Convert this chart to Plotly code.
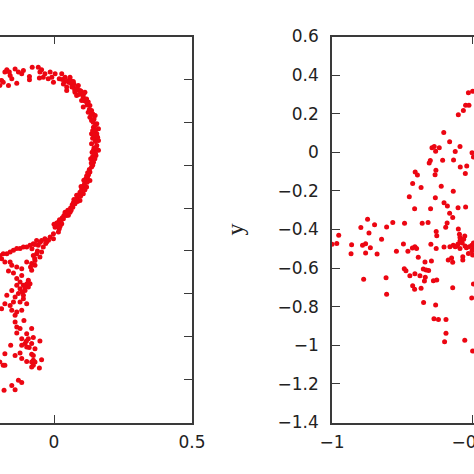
import plotly.graph_objects as go

# Left panel: values (the y tick labels of this panel are cropped away)
ring_top = [(-0.19,0.195),(-0.196,0.172),(-0.184,0.187),(-0.178,0.234),(-0.171,0.245),(-0.162,0.234),(-0.159,0.218),(-0.153,0.203),(-0.141,0.249),(-0.129,0.234),(-0.111,0.242),(-0.117,0.226),(-0.165,0.172),(-0.135,0.182),(-0.089,0.198),(-0.089,0.213),(-0.079,0.257),(-0.057,0.257),(-0.051,0.234),(-0.045,0.245),(-0.053,0.207),(-0.039,0.21),(-0.033,0.226),(-0.014,0.234),(-0.021,0.203),(-0.008,0.21),(-0.002,0.187),(0.004,0.226),(0.028,0.226),(0.019,0.203),(0.034,0.179),(0.04,0.21),(0.052,0.195),(0.046,0.164),(0.058,0.21),(0.064,0.179),(0.046,0.148),(0.07,0.164),(0.076,0.14),(0.088,0.172),(0.094,0.148),(0.082,0.125),(0.1,0.133),(0.106,0.117),(0.112,0.14),(0.1,0.102),(0.118,0.109),(0.124,0.094),(0.106,0.071),(0.13,0.078),(0.124,0.047),(0.136,0.055),(0.13,0.024),(0.149,0.032),(0.136,0.008),(0.155,-0.007),(0.143,-0.023),(0.161,-0.03),(0.136,-0.054),(0.155,-0.054),(0.149,-0.077),(0.161,-0.085),(0.136,-0.1),(0.155,-0.108),(0.143,-0.131),(0.161,-0.131),(0.133,-0.17),(0.152,-0.155),(0.143,-0.186),(0.136,-0.209),(0.13,-0.232),(0.121,-0.256),(0.13,-0.271),(0.112,-0.279),(0.104,-0.302),(0.118,-0.302),(0.094,-0.326),(0.106,-0.333),(0.085,-0.349),(0.094,-0.365),(0.076,-0.38),(0.068,-0.396),(0.058,-0.419),(0.04,-0.419),(0.052,-0.434),(0.034,-0.45),(0.016,-0.466),(0.028,-0.473),(0.004,-0.489),(0.019,-0.497),
(0.11,0.1),(0.12,0.08),(0.14,0.04),(0.145,0.015),(0.15,-0.04),(0.145,-0.06),(0.15,-0.09),(0.145,-0.12),(0.15,-0.145),(0.14,-0.16),(0.14,-0.2),(0.125,-0.245),(0.115,-0.265),(0.11,-0.29),(0.1,-0.315),(0.09,-0.34),(0.08,-0.36),(0.07,-0.375),(0.06,-0.4),(0.045,-0.435),(0.025,-0.46),(0.01,-0.48),(0.08,0.15),(0.065,0.165),(0.055,0.185),(0.09,0.13),(0.075,0.15),(0.105,0.125),
(0.118,0.095),(0.128,0.06),(0.135,0.035),(0.142,0.0),(0.15,-0.015),(0.148,-0.035),(0.14,-0.04),(0.158,-0.07),(0.14,-0.075),(0.152,-0.12),(0.138,-0.14),(0.148,-0.17),(0.135,-0.19),(0.128,-0.22),(0.122,-0.235),(0.118,-0.25),(0.12,-0.28),(0.108,-0.27),(0.098,-0.3),(0.112,-0.315),(0.096,-0.345),(0.082,-0.34),(0.085,-0.37),(0.072,-0.36),(0.066,-0.385),(0.062,-0.41),(0.05,-0.41),(0.048,-0.425),(0.036,-0.435),(0.03,-0.445),(0.02,-0.455),(0.022,-0.485),(0.01,-0.47),(0.0,-0.475),(0.06,0.195),(0.072,0.178),(0.084,0.16),(0.098,0.145),(0.108,0.135),(0.07,0.19),(0.04,0.19),(0.03,0.2)]

lower_cloud = [(0.016,-0.512),(-0.002,-0.52),(-0.014,-0.535),(-0.002,-0.543),(-0.033,-0.543),(-0.027,-0.558),(-0.045,-0.551),(-0.063,-0.551),(-0.075,-0.566),(-0.057,-0.574),(-0.039,-0.582),(-0.087,-0.574),(-0.099,-0.582),(-0.111,-0.582),(-0.123,-0.589),(-0.135,-0.589),(-0.147,-0.597),(-0.159,-0.605),(-0.171,-0.613),(-0.184,-0.613),(-0.196,-0.621),(-0.19,-0.636),(-0.045,-0.605),(-0.063,-0.613),(-0.075,-0.621),(-0.051,-0.628),(-0.069,-0.644),(-0.081,-0.659),(-0.069,-0.667),(-0.081,-0.69),(-0.099,-0.652),(-0.159,-0.652),(-0.153,-0.667),(-0.178,-0.652),(-0.135,-0.675),(-0.117,-0.683),(-0.165,-0.694),(-0.147,-0.703),(-0.117,-0.714),(-0.135,-0.729),(-0.123,-0.745),(-0.093,-0.737),(-0.087,-0.753),(-0.135,-0.76),(-0.111,-0.76),(-0.093,-0.768),(-0.123,-0.776),(-0.105,-0.784),(-0.153,-0.784),(-0.129,-0.799),(-0.111,-0.807),(-0.171,-0.807),(-0.141,-0.815),(-0.111,-0.823),(-0.123,-0.838),(-0.099,-0.846),(-0.147,-0.838),(-0.159,-0.854),(-0.178,-0.846),(-0.19,-0.869),(-0.153,-0.877),(-0.135,-0.885),(-0.117,-0.877),(-0.141,-0.9),(-0.109,-0.924),(-0.141,-0.931),(-0.135,-0.955),(-0.123,-0.962),(-0.081,-0.962),(-0.135,-0.983),(-0.099,-0.986),(-0.117,-1.009),(-0.093,-1.009),(-0.075,-1.004),(-0.051,-1.02),(-0.105,-1.032),(-0.081,-1.032),(-0.117,-1.04),(-0.099,-1.048),(-0.069,-1.056),(-0.157,-1.04),(-0.178,-1.079),(-0.123,-1.076),(-0.141,-1.087),(-0.081,-1.082),(-0.075,-1.087),(-0.117,-1.102),(-0.099,-1.115),(-0.081,-1.118),(-0.069,-1.118),(-0.045,-1.107),(-0.075,-1.133),(-0.081,-1.141),(-0.053,-1.146),(-0.184,-1.133),(-0.178,-1.133),(-0.129,-1.203),(-0.117,-1.214),(-0.153,-1.227),(-0.141,-1.247),(-0.181,-1.25),(-0.196,-1.118),
(-0.03,-0.565),(-0.02,-0.55),(-0.05,-0.56),(-0.07,-0.57),(-0.08,-0.59),(-0.06,-0.6),(-0.07,-0.635),(-0.085,-0.675),(-0.1,-0.755),(-0.105,-0.77),(-0.115,-0.79),(-0.095,-0.75),(-0.1,-1.02),(-0.09,-1.05),(-0.075,-1.11)]

# Right panel: values
right_upper = [(-0.513,0.309),(-0.498,0.316),(-0.523,0.244),(-0.511,0.244),(-0.531,0.216),(-0.549,0.194),(-0.601,0.102),(-0.58,0.055),(-0.643,0.023),(-0.635,0.03),(-0.617,0.023),(-0.63,0.005),(-0.543,0.03),(-0.56,0.004),(-0.5,-0.002),(-0.495,-0.024),(-0.649,-0.043),(-0.653,-0.055),(-0.605,-0.041),(-0.566,-0.04),(-0.542,-0.076),(-0.519,-0.071),(-0.629,-0.093),(-0.703,-0.102),(-0.695,-0.117),(-0.632,-0.116),(-0.524,-0.11),(-0.712,-0.162),(-0.682,-0.183),(-0.61,-0.176),(-0.567,-0.202),(-0.724,-0.23),(-0.631,-0.235),(-0.6,-0.262),(-0.588,-0.278),(-0.705,-0.292),(-0.648,-0.292),(-0.55,-0.287),(-0.523,-0.283),(-0.58,-0.316),(-0.569,-0.338),(-0.873,-0.347),(-0.848,-0.376),(-0.783,-0.364),(-0.805,-0.387),(-0.741,-0.368),(-0.678,-0.368),(-0.657,-0.364),(-0.589,-0.366),(-0.594,-0.388),(-0.897,-0.39),(-0.549,-0.397)]

right_lower = [(-0.868,-0.418),(-0.976,-0.43),(-0.823,-0.451),(-0.628,-0.411),(-0.626,-0.432),(-0.526,-0.434),(-0.543,-0.441),(-0.543,-0.458),(-1.0,-0.477),(-0.983,-0.472),(-0.93,-0.479),(-0.891,-0.482),(-0.88,-0.474),(-0.863,-0.494),(-0.745,-0.475),(-0.647,-0.477),(-0.932,-0.525),(-0.88,-0.522),(-0.839,-0.527),(-0.77,-0.513),(-0.729,-0.513),(-0.704,-0.489),(-0.713,-0.496),(-0.698,-0.498),(-0.628,-0.498),(-0.6,-0.491),(-0.579,-0.489),(-0.567,-0.481),(-0.555,-0.486),(-0.543,-0.498),(-0.525,-0.486),(-0.501,-0.481),(-0.495,-0.498),(-0.513,-0.524),(-0.692,-0.544),(-0.668,-0.569),(-0.645,-0.563),(-0.585,-0.558),(-0.573,-0.548),(-0.569,-0.57),(-0.533,-0.541),(-0.533,-0.558),(-0.498,-0.532),(-0.742,-0.603),(-0.736,-0.614),(-0.674,-0.605),(-0.664,-0.61),(-0.655,-0.612),(-0.704,-0.629),(-0.722,-0.639),(-0.686,-0.639),(-0.667,-0.648),(-0.887,-0.658),(-0.807,-0.65),(-0.67,-0.667),(-0.638,-0.665),(-0.626,-0.662),(-0.712,-0.691),(-0.705,-0.709),(-0.682,-0.705),(-0.569,-0.702),(-0.495,-0.683),(-0.805,-0.736),(-0.501,-0.755),(-0.673,-0.778),(-0.63,-0.791),(-0.636,-0.862),(-0.62,-0.866),(-0.593,-0.866),(-0.593,-0.938),(-0.598,-0.981),(-0.526,-0.974),(-0.498,-1.03),
(-0.56,-0.49),(-0.55,-0.475),(-0.535,-0.47),(-0.52,-0.495),(-0.51,-0.49),(-0.495,-0.47),(-0.5,-0.51),(-0.545,-0.425),(-0.53,-0.45)]

left_points = ring_top + lower_cloud
right_points = right_upper + right_lower

RED = "#ec0612"
DARK = "#3a3a3a"
FONT = dict(family="DejaVu Sans", size=17, color="#222222")
W = H = 474

fig = go.Figure()
marker = dict(color=RED, size=5, line=dict(width=0))
fig.add_trace(go.Scatter(x=[p[0] for p in left_points], y=[p[1] for p in left_points],
                         mode="markers", marker=marker, xaxis="x", yaxis="y", showlegend=False))
fig.add_trace(go.Scatter(x=[p[0] for p in right_points], y=[p[1] for p in right_points],
                         mode="markers", marker=marker, xaxis="x2", yaxis="y2", showlegend=False))

common = dict(showgrid=False, zeroline=False, showline=True, linecolor=DARK, linewidth=1.5,
              ticks="inside", ticklen=8, tickwidth=1, tickcolor=DARK, tickfont=FONT,
              automargin=False)
yd = [1 - 422.5 / H, 1 - 36.5 / H]

fig.update_layout(
    width=W, height=H, margin=dict(l=0, r=0, t=0, b=0), autosize=False,
    paper_bgcolor="white", plot_bgcolor="white", showlegend=False,
    xaxis=dict(domain=[0, 192 / W], range=[-0.1957, 0.5], tick0=0, dtick=0.5, anchor="y",
               mirror="ticks", ticklabelstandoff=3, ticklabeloverflow="allow", **common),
    yaxis=dict(domain=yd, range=[-1.4, 0.4], tick0=0, dtick=0.2, anchor="x", side="right",
               showticklabels=False, **common),
    xaxis2=dict(domain=[332 / W, 1], range=[-1, -0.493], tick0=-1, dtick=0.5, anchor="y2",
                mirror="ticks", ticklabelstandoff=3, ticklabeloverflow="allow", **common),
    yaxis2=dict(domain=yd, range=[-1.4, 0.6], tick0=0, dtick=0.2, anchor="x2", ticklabelstandoff=8,
                title=dict(text="y", font=dict(family="Liberation Serif", size=24, color="#222222"),
                           standoff=27), **common),
)
fig.write_html("out.html", config=dict(displayModeBar=False),
               post_script="document.body.style.margin='0';document.body.style.overflow='hidden';")
